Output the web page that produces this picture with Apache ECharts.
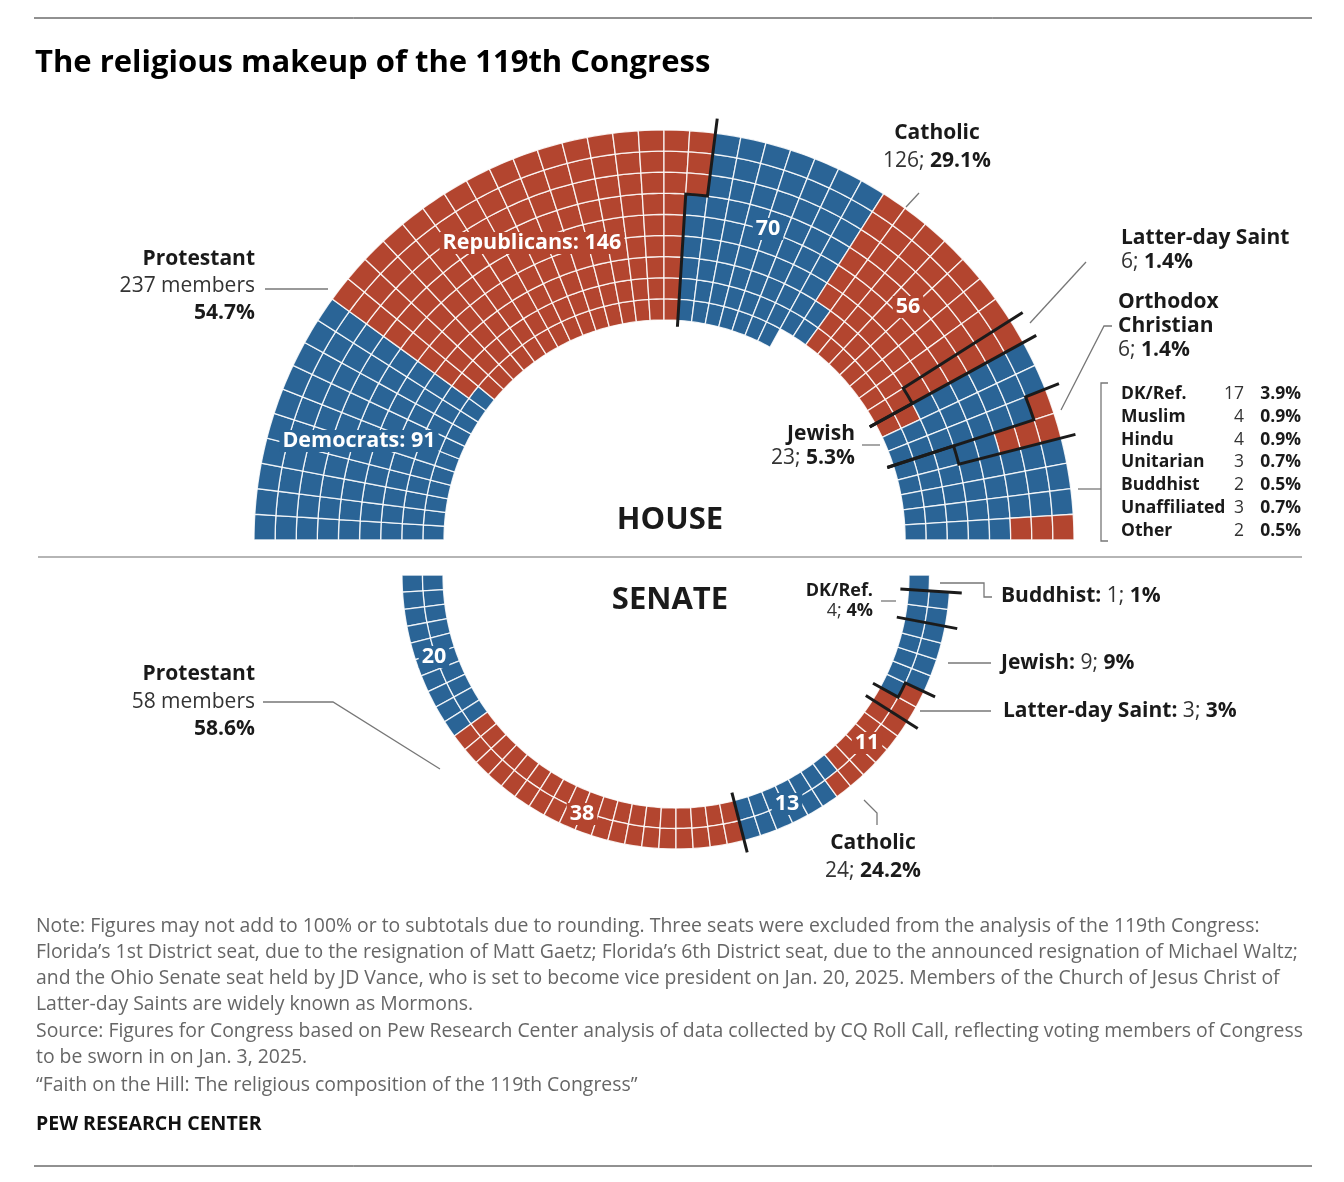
<!DOCTYPE html>
<html>
<head>
<meta charset="utf-8">
<title>The religious makeup of the 119th Congress</title>
<script src="https://cdn.jsdelivr.net/npm/echarts@6.0.0/dist/echarts.min.js"></script>
<style>
    html, body { margin: 0; padding: 0; background: #fff; }
    #chart { width: 1344px; height: 1182px; }
</style>
</head>
<body>
<div id="chart"></div>
<script>
// House seats by religion, split by party
const houseGroups = ['Protestant', 'Catholic', 'Latter-day Saint', 'Jewish', 'Orthodox Christian', 'Other'];
const houseDem = [91, 70, 0, 21, 2, 32];
const houseRep = [146, 56, 6, 2, 4, 3];
const houseDemFirst = [true, true, false, false, false, true];
const houseShare = ['54.7%', '29.1%', '1.4%', '5.3%', '1.4%'];

// Senate seats by religion, split by party
const senateGroups = ['Protestant', 'Catholic', 'Latter-day Saint', 'Jewish', 'DK/Ref.', 'Buddhist'];
const senateDem = [20, 13, 0, 9, 4, 1];
const senateRep = [38, 11, 3, 0, 0, 0];
const senateDemFirst = [true, true, false, true, true, true];
const senateShare = ['58.6%', '24.2%', '3%', '9%', '4%', '1%'];

// smaller House groups listed in the table
const otherNames = ['DK/Ref.', 'Muslim', 'Hindu', 'Unitarian', 'Buddhist', 'Unaffiliated', 'Other'];
const otherCounts = [17, 4, 4, 3, 2, 3, 2];
const otherShares = ['3.9%', '0.9%', '0.9%', '0.7%', '0.5%', '0.7%', '0.5%'];

const RED = '#B3452F';
const BLUE = '#2A6496';
const FONT = '"Open Sans", sans-serif';

const houseCols = 50, houseRings = 9, houseFullCols = 33;
const senateCols = 50, senateRings = 2, senateFullCols = 50;
// House columns holding these group starts are filled from the outside in
const houseOuterFirstGroups = [1, 5];

// seat order along the arc: 0 = Democrat, 1 = Republican
function buildSeats(dem, rep, demFirst) {
    let seq = [], starts = [];
    for (let g = 0; g < dem.length; g++) {
        starts.push(seq.length);
        let first = demFirst[g] ? [0, dem[g]] : [1, rep[g]];
        let second = demFirst[g] ? [1, rep[g]] : [0, dem[g]];
        for (let i = 0; i < first[1]; i++) seq.push(first[0]);
        for (let i = 0; i < second[1]; i++) seq.push(second[0]);
    }
    return { seq: seq, starts: starts };
}

// fill columns left to right; outerFirst(c, s, n) picks the direction inside a column
function placeSeats(seq, cols, rings, fullCols, outerFirst) {
    let cells = [], pos = [], s = 0;
    for (let c = 0; c < cols && s < seq.length; c++) {
        let lo = c < fullCols ? 0 : 1;
        let n = rings - lo;
        let out = outerFirst(c, s, n);
        for (let k = 0; k < n && s < seq.length; k++) {
            let ring = out ? rings - 1 - k : lo + k;
            cells.push([ring + 0.5, (c + 0.5) * 180 / cols, seq[s], c, ring]);
            pos.push({ col: c, k: k, out: out });
            s++;
        }
    }
    return { cells: cells, pos: pos };
}

// black separators between religion groups, in data space [radius, angle]
function boundaryLines(starts, pos, cols, rings, fullCols, extIn, extOut) {
    const step = 180 / cols;
    let lines = [];
    for (let g = 1; g < starts.length; g++) {
        const p = pos[starts[g]];
        const c = p.col, m = p.k;
        const lo = c < fullCols ? 0 : 1;
        const a0 = c * step, a1 = (c + 1) * step;
        let pts;
        if (m === 0) {
            const loMin = (c - 1) < fullCols ? 0 : lo;
            pts = [[loMin - extIn, a0], [rings + extOut, a0]];
        } else if (p.out) {
            const rb = rings - m;
            pts = [[rings + extOut, a1], [rb, a1], [rb, (a0 + a1) / 2], [rb, a0], [lo - extIn, a0]];
        } else {
            const rb = lo + m;
            pts = [[lo - extIn, a1], [rb, a1], [rb, (a0 + a1) / 2], [rb, a0], [rings + extOut, a0]];
        }
        lines.push(pts);
    }
    return lines;
}

const house = buildSeats(houseDem, houseRep, houseDemFirst);
const housePlaced = placeSeats(house.seq, houseCols, houseRings, houseFullCols, function (c, s, n) {
    return houseOuterFirstGroups.some(function (g) {
        return house.starts[g] >= s && house.starts[g] < s + n;
    });
});
const houseLines = boundaryLines(house.starts, housePlaced.pos, houseCols, houseRings, houseFullCols, 0.3, 0.7);

const senate = buildSeats(senateDem, senateRep, senateDemFirst);
const senatePlaced = placeSeats(senate.seq, senateCols, senateRings, senateFullCols, function (c) {
    return c % 2 === 0;
});
const senateLines = boundaryLines(senate.starts, senatePlaced.pos, senateCols, senateRings, senateFullCols, 0.4, 0.6);

function cellRenderer(cols) {
    const step = 180 / cols;
    return function (params, api) {
        const col = api.value(3), ring = api.value(4), party = api.value(2);
        const a0 = col * step, a1 = (col + 1) * step;
        let pts = [];
        for (let k = 0; k <= 4; k++) pts.push(api.coord([ring + 1, a0 + (a1 - a0) * k / 4]));
        for (let k = 4; k >= 0; k--) pts.push(api.coord([ring, a0 + (a1 - a0) * k / 4]));
        return {
            type: 'polygon',
            shape: { points: pts },
            style: { fill: party === 1 ? RED : BLUE, stroke: 'rgba(255,255,255,0.85)', lineWidth: 1.3 }
        };
    };
}

function lineRenderer(lines) {
    return function (params, api) {
        const pts = lines[api.value(2)].map(function (p) { return api.coord(p); });
        return {
            type: 'polyline',
            shape: { points: pts },
            style: { stroke: '#1b1b1b', lineWidth: 3, fill: null, lineJoin: 'miter' },
            z2: 10
        };
    };
}

// texts and leader lines
let graphics = [];
function txt(x, y, text, opt) {
    opt = opt || {};
    graphics.push({
        type: 'text', x: x, y: y, z: 100, silent: true,
        style: {
            text: text,
            fill: opt.color || '#1a1a1a',
            fontSize: opt.size || 21,
            fontWeight: opt.bold ? 'bold' : 'normal',
            fontFamily: FONT,
            align: opt.align || 'left',
            verticalAlign: 'middle',
            backgroundColor: opt.bg,
            padding: opt.bg ? [0, 3] : 0,
            rich: opt.rich
        }
    });
}
function rich(x, y, text, align, size) {
    size = size || 21;
    txt(x, y, text, {
        align: align, size: size,
        rich: {
            b: { fontSize: size, fontWeight: 'bold', fontFamily: FONT, fill: '#1a1a1a' },
            r: { fontSize: size, fontWeight: 'normal', fontFamily: FONT, fill: '#333' }
        }
    });
}
function line(points, color, width) {
    graphics.push({
        type: 'polyline', z: 100, silent: true,
        shape: { points: points },
        style: { stroke: color || '#777', lineWidth: width || 1.3, fill: null }
    });
}
function white(x, y, text, bg) {
    txt(x, y, text, { bold: true, color: '#fff', align: 'center', size: 21.5, bg: bg });
}

// frame
line([[34, 18], [1312, 18]], '#222', 1);
line([[34, 1166], [1312, 1166]], '#222', 1);
txt(35, 63, 'The religious makeup of the 119th Congress', { bold: true, size: 31, color: '#000' });

const houseTotal = houseDem.map(function (d, i) { return d + houseRep[i]; });
const senateTotal = senateDem.map(function (d, i) { return d + senateRep[i]; });

// House labels
txt(255, 259, 'Protestant', { bold: true, align: 'right' });
txt(255, 286, houseTotal[0] + ' members', { align: 'right', color: '#333' });
txt(255, 313, houseShare[0], { bold: true, align: 'right' });
line([[265, 289], [328, 289]]);
white(532, 243, 'Republicans: ' + houseRep[0], RED);
white(359, 441, 'Democrats: ' + houseDem[0], BLUE);
white(768, 229, String(houseDem[1]), BLUE);
white(908, 307, String(houseRep[1]), RED);

txt(937, 133, 'Catholic', { bold: true, align: 'center' });
rich(937, 161, '{r|' + houseTotal[1] + '; }{b|' + houseShare[1] + '}', 'center');
line([[919, 193], [906, 207]]);

txt(1121, 238, 'Latter-day Saint', { bold: true });
rich(1121, 262, '{r|' + houseTotal[2] + '; }{b|' + houseShare[2] + '}', 'left');
line([[1086, 262], [1030, 323]]);

txt(1118, 302, 'Orthodox', { bold: true });
txt(1118, 326, 'Christian', { bold: true });
rich(1118, 350, '{r|' + houseTotal[4] + '; }{b|' + houseShare[4] + '}', 'left');
line([[1112, 326], [1104, 326], [1061, 410]]);

txt(855, 434, 'Jewish', { bold: true, align: 'right' });
rich(855, 458, '{r|' + houseTotal[3] + '; }{b|' + houseShare[3] + '}', 'right');
line([[862, 445], [880, 445]]);

line([[1108, 383], [1101, 383], [1101, 541], [1108, 541]]);
line([[1078, 489], [1101, 489]]);
const rowY = [394, 417, 440, 462, 485, 508, 531];
otherNames.forEach(function (name, i) {
    txt(1121, rowY[i], name, { bold: true, size: 17.5 });
    txt(1244, rowY[i], String(otherCounts[i]), { size: 17.5, align: 'right', color: '#333' });
    txt(1301, rowY[i], otherShares[i], { bold: true, size: 17.5, align: 'right' });
});

txt(670, 520, 'HOUSE', { bold: true, size: 31, align: 'center' });
line([[38, 557], [1302, 557]], '#b5b5b5', 2);
txt(670, 600, 'SENATE', { bold: true, size: 31, align: 'center' });

// Senate labels
white(434, 657, String(senateDem[0]), BLUE);
white(582, 814, String(senateRep[0]), RED);
white(787, 804, String(senateDem[1]), BLUE);
white(867, 743, String(senateRep[1]), RED);

txt(255, 674, 'Protestant', { bold: true, align: 'right' });
txt(255, 702, senateTotal[0] + ' members', { align: 'right', color: '#333' });
txt(255, 729, senateShare[0], { bold: true, align: 'right' });
line([[263, 702], [333, 702], [440, 769]]);

txt(873, 843, 'Catholic', { bold: true, align: 'center' });
rich(873, 871, '{r|' + senateTotal[1] + '; }{b|' + senateShare[1] + '}', 'center');
line([[864, 800], [877, 813], [877, 825]]);

txt(873, 591, 'DK/Ref.', { bold: true, align: 'right', size: 18 });
rich(873, 611, '{r|' + senateTotal[4] + '; }{b|' + senateShare[4] + '}', 'right', 18);
line([[881, 601], [896, 601]]);

rich(1001, 596, '{b|Buddhist:}{r| ' + senateTotal[5] + '; }{b|' + senateShare[5] + '}', 'left');
line([[940, 583], [984, 583], [984, 597], [992, 597]]);
rich(1001, 663, '{b|Jewish:}{r| ' + senateTotal[3] + '; }{b|' + senateShare[3] + '}', 'left');
line([[948, 663], [991, 663]]);
rich(1003, 711, '{b|Latter-day Saint:}{r| ' + senateTotal[2] + '; }{b|' + senateShare[2] + '}', 'left');
line([[920, 711], [991, 711]]);

// footer
const notes = [
    'Note: Figures may not add to 100% or to subtotals due to rounding. Three seats were excluded from the analysis of the 119th Congress:',
    'Florida\u2019s 1st District seat, due to the resignation of Matt Gaetz; Florida\u2019s 6th District seat, due to the announced resignation of Michael Waltz;',
    'and the Ohio Senate seat held by JD Vance, who is set to become vice president on Jan. 20, 2025. Members of the Church of Jesus Christ of',
    'Latter-day Saints are widely known as Mormons.',
    'Source: Figures for Congress based on Pew Research Center analysis of data collected by CQ Roll Call, reflecting voting members of Congress',
    'to be sworn in on Jan. 3, 2025.',
    '\u201CFaith on the Hill: The religious composition of the 119th Congress\u201D'
];
const noteY = [926, 952, 978, 1004, 1031, 1057, 1085];
notes.forEach(function (t, i) {
    txt(36, noteY[i], t, { size: 19.4, color: '#666' });
});
txt(36, 1124, 'PEW RESEARCH CENTER', { bold: true, size: 19.5, color: '#111' });

const chart = echarts.init(document.getElementById('chart'));
chart.setOption({
    animation: false,
    backgroundColor: '#fff',
    polar: [
        { center: [664, 540], radius: [220, 410] },
        { center: [676, 575], radius: [233, 274] }
    ],
    angleAxis: [
        { polarIndex: 0, type: 'value', min: 0, max: 360, startAngle: 180, clockwise: true, show: false },
        { polarIndex: 1, type: 'value', min: 0, max: 360, startAngle: 180, clockwise: false, show: false }
    ],
    radiusAxis: [
        { polarIndex: 0, type: 'value', min: 0, max: houseRings, show: false },
        { polarIndex: 1, type: 'value', min: 0, max: senateRings, show: false }
    ],
    series: [
        {
            type: 'custom', name: 'House', coordinateSystem: 'polar', polarIndex: 0,
            encode: { radius: 0, angle: 1 }, silent: true,
            data: housePlaced.cells, renderItem: cellRenderer(houseCols)
        },
        {
            type: 'custom', name: 'Senate', coordinateSystem: 'polar', polarIndex: 1,
            encode: { radius: 0, angle: 1 }, silent: true,
            data: senatePlaced.cells, renderItem: cellRenderer(senateCols)
        },
        {
            type: 'custom', name: 'House groups', coordinateSystem: 'polar', polarIndex: 0,
            encode: { radius: 0, angle: 1 }, silent: true, z: 5,
            data: houseLines.map(function (l, i) { return [0.5, 90, i]; }),
            renderItem: lineRenderer(houseLines)
        },
        {
            type: 'custom', name: 'Senate groups', coordinateSystem: 'polar', polarIndex: 1,
            encode: { radius: 0, angle: 1 }, silent: true, z: 5,
            data: senateLines.map(function (l, i) { return [0.5, 90, i]; }),
            renderItem: lineRenderer(senateLines)
        }
    ],
    graphic: graphics
});
</script>
</body>
</html>
